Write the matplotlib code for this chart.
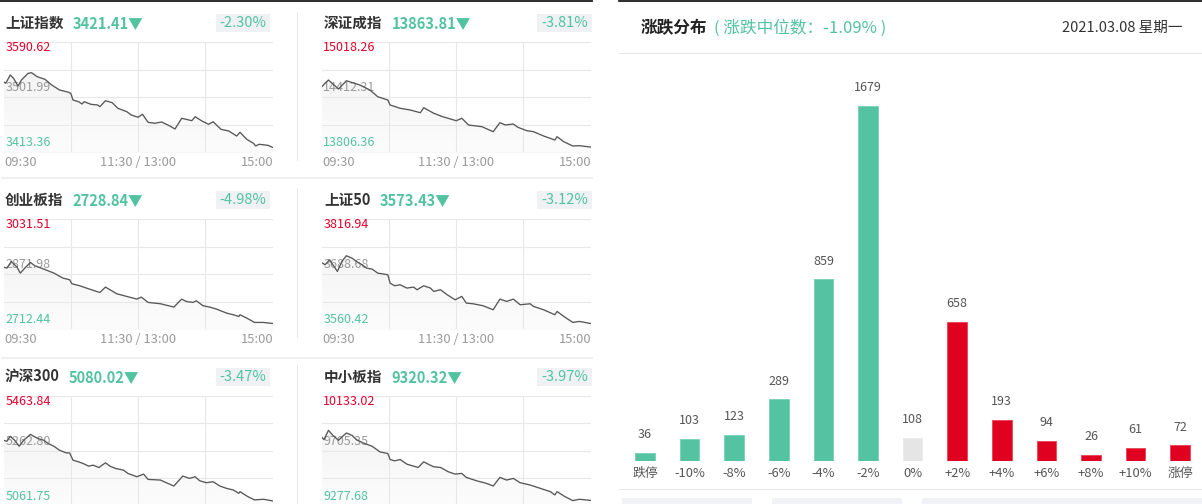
import matplotlib
matplotlib.use('Agg')
import matplotlib.pyplot as plt
from matplotlib.patches import Rectangle
from matplotlib.lines import Line2D
import numpy as np

plt.rcParams['font.family'] = ['Noto Sans CJK SC', 'DejaVu Sans']

# ---------------- data ----------------
index_names = ['上证指数', '深证成指', '创业板指', '上证50', '沪深300', '中小板指']
index_last = [3421.41, 13863.81, 2728.84, 3573.43, 5080.02, 9320.32]
index_pct = ['-2.30%', '-3.81%', '-4.98%', '-3.12%', '-3.47%', '-3.97%']
index_high = [3590.62, 15018.26, 3031.51, 3816.94, 5463.84, 10133.02]
index_prev = [3501.99, 14412.31, 2871.98, 3688.68, 5262.80, 9705.35]
index_low = [3413.36, 13806.36, 2712.44, 3560.42, 5061.75, 9277.68]
time_labels = ['09:30', '11:30 / 13:00', '15:00']

sh_t = [0, 2, 6, 9, 13, 16, 22, 25, 30, 37, 43, 50, 58, 60, 62, 67, 70, 72, 78, 84,
        86, 91, 97, 102, 110, 114, 120, 124, 129, 135, 141, 148, 153, 159, 163, 168, 171, 177, 183, 187,
        194, 201, 208, 211, 217, 223, 225, 228, 236, 240]
sh_v = [3527.1, 3524.6, 3537.9, 3532.6, 3520.2, 3529.9, 3540.7, 3541.6, 3535.2, 3531.0,
        3521.8, 3513.8, 3510.1, 3508.4, 3497.6, 3494.9, 3491.2, 3494.9, 3490.7, 3489.6,
        3486.9, 3496.5, 3493.3, 3484.3, 3478.8, 3473.5, 3469.8, 3474.6, 3461.7, 3460.1,
        3462.2, 3456.2, 3450.9, 3468.2, 3466.5, 3464.3, 3470.7, 3463.8, 3458.5, 3462.7,
        3450.4, 3447.7, 3439.6, 3445.6, 3434.3, 3427.9, 3423.5, 3426.3, 3424.6, 3421.4]

sz_t = [0, 6, 15, 22, 34, 43, 50, 59, 61, 70, 79, 88, 91, 100, 108, 120, 125, 131, 143, 153,
        159, 164, 171, 175, 183, 189, 198, 208, 210, 216, 224, 230, 240]
sz_v = [14529.1, 14602.9, 14503.7, 14595.2, 14547.8, 14492.7, 14418.9, 14382.6, 14327.5, 14291.1,
        14272.4, 14242.6, 14297.7, 14236.0, 14198.6, 14154.5, 14180.9, 14107.1, 14088.4, 14033.3,
        14132.5, 14107.1, 14118.1, 14081.8, 14044.3, 14033.3, 13985.9, 13941.9, 13978.2, 13923.1,
        13875.8, 13879.1, 13863.81]

cyb_t = [0, 3, 7, 12, 15, 19, 24, 28, 36, 45, 53, 59, 61, 68, 74, 83, 86, 91, 95, 101,
         110, 119, 123, 129, 140, 152, 159, 163, 169, 172, 178, 184, 190, 199, 205, 210, 211, 217, 224, 232, 240]
cyb_v = [2892.3, 2889.4, 2908.7, 2892.3, 2874.9, 2889.4, 2905.8, 2896.2, 2886.5, 2874.9,
         2860.4, 2855.6, 2844.0, 2838.2, 2831.4, 2821.7, 2818.8, 2834.3, 2826.6, 2815.0,
         2807.2, 2799.5, 2805.3, 2789.8, 2786.0, 2776.3, 2799.5, 2792.7, 2789.8, 2794.7,
         2780.2, 2776.3, 2770.5, 2758.9, 2754.1, 2749.2, 2754.1, 2744.4, 2731.8, 2731.8, 2728.84]

sz50_t = [0, 3, 7, 14, 18, 22, 27, 31, 36, 40, 45, 50, 59, 61, 65, 70, 76, 82, 85, 91,
          97, 100, 106, 112, 119, 125, 129, 135, 144, 153, 159, 165, 171, 177, 186, 189, 198, 208, 210, 216,
          224, 230, 240]
sz50_v = [3715.9, 3710.5, 3722.1, 3694.9, 3718.2, 3731.5, 3726.0, 3718.2, 3710.5, 3702.7,
          3700.3, 3691.0, 3687.1, 3667.7, 3661.5, 3663.8, 3656.1, 3658.4, 3652.2, 3661.5,
          3656.1, 3648.3, 3652.2, 3640.5, 3628.8, 3636.6, 3621.1, 3619.5, 3614.9, 3605.5,
          3630.4, 3625.0, 3630.4, 3617.2, 3619.5, 3613.3, 3605.5, 3593.9, 3601.6, 3590.0,
          3576.0, 3578.3, 3573.43]

hs300_t = [0, 3, 6, 10, 14, 18, 24, 27, 31, 36, 40, 45, 50, 56, 59, 62, 67, 71, 76, 80,
           85, 91, 95, 100, 107, 111, 119, 125, 129, 140, 152, 160, 166, 171, 175, 181, 187, 193, 199, 205,
           210, 211, 218, 224, 232, 240]
hs300_v = [5301.6, 5297.9, 5316.1, 5301.6, 5279.8, 5301.6, 5323.4, 5316.1, 5307.6, 5301.6,
           5289.4, 5279.8, 5265.2, 5255.5, 5255.5, 5228.9, 5222.8, 5216.8, 5207.1, 5210.7,
           5202.2, 5219.2, 5207.1, 5198.6, 5192.6, 5180.4, 5168.3, 5178.0, 5158.6, 5156.2,
           5134.4, 5170.8, 5162.3, 5168.3, 5153.8, 5146.5, 5150.2, 5134.4, 5125.9, 5119.9,
           5107.8, 5113.8, 5095.7, 5083.6, 5086.0, 5080.02]

zxb_t = [0, 2, 6, 10, 15, 18, 22, 27, 31, 37, 45, 52, 59, 61, 65, 70, 76, 82, 86, 91,
         95, 100, 106, 113, 119, 125, 129, 138, 147, 153, 159, 165, 171, 177, 186, 195, 204, 208, 210, 217,
         224, 230, 240]
zxb_v = [9813.6, 9792.9, 9865.1, 9826.4, 9787.8, 9813.6, 9844.5, 9826.4, 9792.9, 9767.2,
         9741.4, 9697.6, 9684.7, 9638.4, 9628.1, 9638.4, 9602.3, 9586.9, 9576.5, 9620.3,
         9602.3, 9581.7, 9576.5, 9543.0, 9525.0, 9530.2, 9499.2, 9473.5, 9452.9, 9432.3,
         9499.2, 9478.6, 9491.5, 9458.0, 9440.0, 9414.2, 9388.5, 9362.7, 9388.5, 9349.8,
         9318.9, 9329.2, 9320.32]

series_t = [sh_t, sz_t, cyb_t, sz50_t, hs300_t, zxb_t]
series_v = [sh_v, sz_v, cyb_v, sz50_v, hs300_v, zxb_v]

dist_labels = ['跌停', '-10%', '-8%', '-6%', '-4%', '-2%', '0%', '+2%', '+4%', '+6%', '+8%', '+10%', '涨停']
dist_counts = [36, 103, 123, 289, 859, 1679, 108, 658, 193, 94, 26, 61, 72]

header_title = '涨跌分布'
header_median = '( 涨跌中位数：-1.09% )'
header_date = '2021.03.08 星期一'

# ---------------- layout ----------------
W, H = 1202, 504
fig = plt.figure(figsize=(W / 100, H / 100), dpi=100)
fig.patch.set_facecolor('white')


def fx(x):
    return x / W


def fy(y):
    return 1 - y / H


GREEN = '#52c3a1'
RED = '#e3002b'
GRID = '#e8e8e8'
LINE = '#575757'


def hline(x0, x1, y, color, lw_px=1.0, z=1):
    fig.add_artist(Line2D([fx(x0), fx(x1)], [fy(y), fy(y)], color=color,
                          lw=lw_px * 0.72, transform=fig.transFigure, zorder=z))


def vline(x, y0, y1, color, lw_px=1.0, z=1):
    fig.add_artist(Line2D([fx(x), fx(x)], [fy(y0), fy(y1)], color=color,
                          lw=lw_px * 0.72, transform=fig.transFigure, zorder=z))


renderer = fig.canvas.get_renderer()

# top black bars
hline(0, 592, 0.8, '#1a1a1a', 1.8)
hline(619, 1202, 0.8, '#1a1a1a', 1.8)

col_x = [3.5, 321.7]
row_top = [42.3, 219.1, 395.9]
CW, CH = 269.0, 110.0
title_x = [5, 324]
box_x = [(216, 270), (537, 592)]

for k in range(6):
    r, c = divmod(k, 2)
    xl = col_x[c]
    yt = row_top[r]
    ty = 23 + 176.8 * r

    # title + last value
    t = fig.text(fx(title_x[c]), fy(ty), index_names[k], fontsize=10.5, color='#333333',
                 weight='bold', va='center', ha='left')
    bb = t.get_window_extent(renderer)
    fig.text(fx(bb.x1 + 9), fy(ty), f'{index_last[k]:.2f}\u25BC', fontsize=10.5, color=GREEN,
             weight='bold', va='center', ha='left')

    # pct box
    bx0, bx1 = box_x[c]
    fig.add_artist(Rectangle((fx(bx0), fy(ty + 9)), (bx1 - bx0) / W, 18 / H,
                             transform=fig.transFigure, facecolor='#eff1f4', edgecolor='none', zorder=1))
    fig.text(fx((bx0 + bx1) / 2), fy(ty), index_pct[k], fontsize=10.5, color=GREEN,
             va='center', ha='center', zorder=3)

    # chart
    ax = fig.add_axes([fx(xl), fy(yt + CH), CW / W, CH / H])
    ax.set_xlim(0, 240)
    lo, hi = index_low[k], index_high[k]
    ax.set_ylim(lo, hi)
    ax.axis('off')
    tt = np.array(series_t[k], dtype=float)
    vv = np.array(series_v[k], dtype=float)
    poly = ax.fill_between(tt, vv, lo, color='#f6f6f6', lw=0, zorder=1)
    grad = np.linspace(0, 1, 100).reshape(-1, 1)
    im = ax.imshow(grad, extent=[0, 240, lo, hi], origin='lower', aspect='auto',
                   cmap=matplotlib.colors.LinearSegmentedColormap.from_list('g', ['#fcfcfc', '#f1f1f1']),
                   zorder=1.5)
    im.set_clip_path(poly.get_paths()[0], transform=ax.transData)
    ax.set_xlim(0, 240)
    ax.set_ylim(lo, hi)
    for v in np.linspace(lo, hi, 5):
        ax.axhline(v, color=GRID, lw=0.8, zorder=2)
    for m in (60, 120, 180):
        ax.axvline(m, color=GRID, lw=0.8, zorder=2)
    ax.plot(tt, vv, color=LINE, lw=0.95, zorder=4)

    ax.annotate(f'{hi:.2f}', xy=(0, hi), xycoords=('axes fraction', 'data'),
                xytext=(1.2, -4.1), textcoords='offset points', fontsize=9, color=RED,
                va='center', ha='left', zorder=3)
    ax.annotate(f'{index_prev[k]:.2f}', xy=(0, index_prev[k]), xycoords=('axes fraction', 'data'),
                xytext=(1.2, 6.7), textcoords='offset points', fontsize=9, color='#9a9a9a',
                va='center', ha='left', zorder=3)
    ax.annotate(f'{lo:.2f}', xy=(0, lo), xycoords=('axes fraction', 'data'),
                xytext=(1.2, 6.9), textcoords='offset points', fontsize=9, color=GREEN,
                va='center', ha='left', zorder=3)

    # time labels (the bottom row's labels fall below the visible area)
    ly = yt + CH + 10.6
    if ly + 6 < H:
        fig.text(fx(xl + 0.5), fy(ly), time_labels[0], fontsize=9.3, color='#9a9a9a', va='center', ha='left')
        fig.text(fx(xl + CW / 2), fy(ly), time_labels[1], fontsize=9.3, color='#9a9a9a', va='center', ha='center')
        fig.text(fx(xl + CW + 0.5), fy(ly), time_labels[2], fontsize=9.3, color='#9a9a9a', va='center', ha='right')

# separators on left panel
for (y0, y1) in [(12, 160), (188, 337), (365, 504)]:
    vline(297, y0, y1, '#e8e8e8', 1.0)
for y in (178, 358):
    hline(2, 592, y, '#f0f0f0', 2.0)

# ---------------- right panel ----------------
ht = fig.text(fx(641), fy(28), header_title, fontsize=12, weight='bold', color='#222222',
              va='center', ha='left')
hb = ht.get_window_extent(renderer)
fig.text(fx(hb.x1 + 6), fy(28), header_median, fontsize=12, color=GREEN, va='center', ha='left')
fig.text(fx(1182), fy(28), header_date, fontsize=10.5, color='#333333', va='center', ha='right')
hline(619, 1202, 53, '#e6e6e6', 1.0)
hline(619, 1202, 489, '#e6e6e6', 1.0)
for (bx0, bx1) in [(622, 752), (772, 902), (922, 1202)]:
    fig.add_artist(Rectangle((fx(bx0), fy(504)), (bx1 - bx0) / W, 6 / H,
                             transform=fig.transFigure, facecolor='#f1f2f6', edgecolor='none'))

base_y, top_y = 460.5, 60.0
px_per_unit = 0.2112
axb = fig.add_axes([fx(622.7), fy(base_y), 579.8 / W, (base_y - top_y) / H])
xpos = np.arange(len(dist_counts))
axb.set_xlim(-0.5, len(dist_counts) - 0.5)
axb.set_ylim(0, (base_y - top_y) / px_per_unit)
axb.axis('off')
colors = []
edges = []
for lab in dist_labels:
    if lab == '0%':
        colors.append('#e5e5e5'); edges.append('#ececec')
    elif lab.startswith('+') or lab == '涨停':
        colors.append('#e00020'); edges.append('#ea4a5c')
    else:
        colors.append('#53c3a2'); edges.append('#7dd3b9')
axb.bar(xpos, dist_counts, width=0.44, color=colors, edgecolor=edges, lw=0.7)
for i, cnt in enumerate(dist_counts):
    axb.annotate(str(cnt), xy=(i, cnt), xytext=(0, 13), textcoords='offset points',
                 ha='center', va='center', fontsize=9, color='#555555', annotation_clip=False)
    axb.annotate(dist_labels[i], xy=(i, 0), xytext=(0, -9.2), textcoords='offset points',
                 ha='center', va='center', fontsize=9.3, color='#555555', annotation_clip=False)

fig.savefig('out.png', dpi=100, facecolor='white')
